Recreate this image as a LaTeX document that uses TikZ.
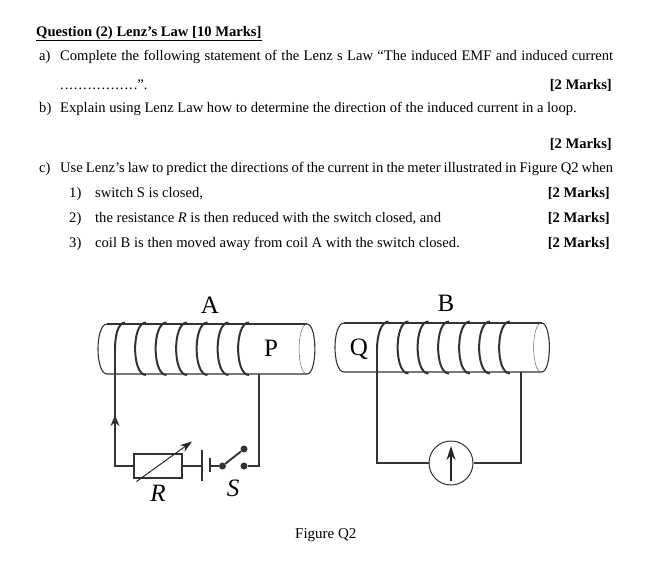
\documentclass[tikz,border=0pt]{standalone}
\usepackage{fontspec}
\setmainfont{Liberation Serif}
\usetikzlibrary{arrows.meta}
\newcommand{\lettered}[1]{\makebox[21pt][l]{#1}}
\newcommand{\numbered}[1]{\makebox[26pt][l]{#1}}
\tikzset{
    txt/.style={anchor=base west, inner sep=0pt, font=\fontsize{14.6}{16}\selectfont},
    mrk/.style={anchor=base east, inner sep=0pt, font=\fontsize{14.6}{16}\selectfont\bfseries},
    lbl/.style={inner sep=0pt, font=\fontsize{25}{27}\selectfont},
    wire/.style={line width=1.9pt, color=black!80},
    turn/.style={line width=2pt, color=black!80},
    pipe/.style={line width=1.1pt, color=black!80},
    contact/.style={circle, fill=black!80, inner sep=0pt, minimum size=7pt},
}
\begin{document}
\begin{tikzpicture}[x=1pt, y=-1pt]
    \useasboundingbox (0, 0) rectangle (651, 562);
    \node[txt, font=\fontsize{14.6}{16}\selectfont\bfseries] (title) at (36, 36) {\underline{Question (2) Lenz’s Law [10 Marks]}};
    \node[txt] (qa) at (39, 60) {\lettered{a)}\makebox[553pt][s]{Complete the following statement of the Lenz s Law “The induced EMF and induced current}};
    \node[txt] (qadots) at (60, 89) {{\addfontfeature{LetterSpace=6.5}.................}”.};
    \node[mrk] (ma) at (612, 89) {[2 Marks]};
    \node[txt] (qb) at (39, 112) {\lettered{b)}Explain using Lenz Law how to determine the direction of the induced current in a loop.};
    \node[mrk] (mb) at (612, 148) {[2 Marks]};
    \node[txt] (qc) at (39, 172) {\lettered{c)}\makebox[553pt][s]{Use Lenz’s law to predict the directions of the current in the meter illustrated in Figure Q2 when}};
    \node[txt] (qc1) at (69, 197) {\numbered{1)}switch S is closed,};
    \node[mrk] (mc1) at (610, 197) {[2 Marks]};
    \node[txt] (qc2) at (69, 222) {\numbered{2)}the resistance \textit{R} is then reduced with the switch closed, and};
    \node[mrk] (mc2) at (610, 222) {[2 Marks]};
    \node[txt] (qc3) at (69, 247) {\numbered{3)}coil B is then moved away from coil A with the switch closed.};
    \node[mrk] (mc3) at (610, 247) {[2 Marks]};
    % coil A
    \draw[pipe] (107, 324) .. controls (95, 324) and (95, 374) .. (107, 374) -- (307, 374);
    \draw[pipe] (107, 324) -- (307, 324);
    \draw[pipe] (307, 324) .. controls (317.5, 324) and (317.5, 374) .. (307, 374);
    \draw[line width=0.5pt, color=black!60] (307, 324) .. controls (296.5, 324) and (296.5, 374) .. (307, 374);
    \foreach \x in {146, 166.5, 187, 207.5, 228.5, 249} {
        \draw[turn] (\x, 322.5) .. controls (\x-14.5, 322.5) and (\x-14.5, 375) .. (\x, 375);
    }
    \coordinate (Aleft) at (115, 350);
    \coordinate (Aright) at (259, 374);
    \draw[turn] (125, 322.5) .. controls (118, 323) and (115, 335) .. (Aleft);
    % coil B
    \draw[pipe] (344, 323) .. controls (332, 323) and (332, 372) .. (344, 372) -- (541.5, 372);
    \draw[pipe] (344, 323) -- (541.5, 323);
    \draw[pipe] (541.5, 323) .. controls (552, 323) and (552, 372) .. (541.5, 372);
    \draw[line width=0.5pt, color=black!60] (541.5, 323) .. controls (531, 323) and (531, 372) .. (541.5, 372);
    \foreach \x in {408.5, 428.5, 449, 470, 490, 510} {
        \draw[turn] (\x, 321.5) .. controls (\x-14.5, 321.5) and (\x-14.5, 373.5) .. (\x, 373.5);
    }
    \coordinate (Bleft) at (377, 350);
    \coordinate (Bright) at (521, 372);
    \draw[turn] (388.5, 321.5) .. controls (381, 322) and (377, 335) .. (Bleft);
    \node[lbl] (A) at (210, 305) {A};
    \node[lbl] (B) at (446, 303) {B};
    \node[lbl] (P) at (271, 348) {P};
    \node[lbl] (Q) at (359, 349) {Q};
    % circuit A
    \node[draw, line width=1.6pt, color=black!80, minimum width=48pt, minimum height=24pt, inner sep=0pt] (res) at (158, 466) {};
    \coordinate (plateL) at (202, 466);
    \coordinate (plateS) at (210, 466);
    \node[contact] (swL) at (222.5, 466) {};
    \node[contact] (swR) at (244, 466) {};
    \node[contact] (swT) at (244, 449) {};
    \coordinate (corner) at (259, 466);
    \draw[wire] (Aleft) |- (res.west);
    \draw[wire] (res.east) -- (plateL);
    \draw[wire] (plateS) -- (swL);
    \draw[wire] (swR) -- (corner) -- (Aright);
    \draw[wire] (swL) -- (swT);
    \draw[line width=2pt, color=black!80] (202, 450) -- (202, 481);
    \draw[line width=2pt, color=black!80] (210, 458) -- (210, 472);
    \draw[line width=1pt, color=black!85, -{Stealth[length=12pt, width=8pt]}] (136.5, 481.5) -- (192, 441.5);
    \draw[-{Stealth[length=11pt, width=9pt]}, wire] (115, 430) -- (115, 415);
    \node[lbl, font=\fontsize{25}{27}\selectfont\itshape] (R) at (158, 493) {R};
    \node[lbl, font=\fontsize{25}{27}\selectfont\itshape] (S) at (233, 488) {S};
    % circuit B
    \node[draw, circle, line width=1pt, color=black!80, minimum size=44pt, inner sep=0pt] (meter) at (451, 463) {};
    \draw[wire] (Bleft) |- (meter.west);
    \draw[wire] (meter.east) -| (Bright);
    \draw[line width=1.2pt, color=black!85, -{Stealth[length=14pt, width=9pt]}] (451, 481) -- (451, 446);
    \node[txt] (cap) at (295, 538) {\fontsize{15}{17}\selectfont Figure Q2};
\end{tikzpicture}
\end{document}
